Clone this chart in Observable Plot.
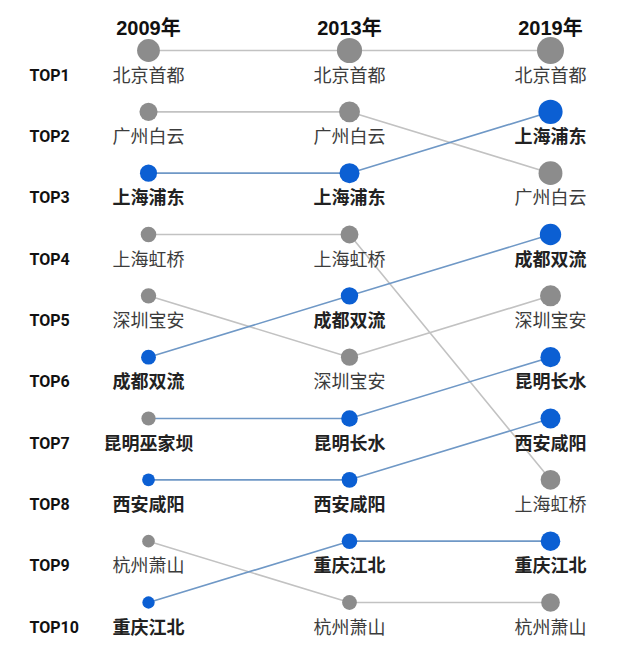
<!DOCTYPE html>
<html>
<head>
<meta charset="utf-8">
<script src="https://cdn.jsdelivr.net/npm/d3@7"></script>
<script src="https://cdn.jsdelivr.net/npm/@observablehq/plot@0.6"></script>
<style>
  html, body { margin: 0; padding: 0; background: #fff; }
  #chart svg { display: block; }
</style>
</head>
<body>
<div id="chart"></div>
<script>
// Years (columns) and ranks (rows)
const years = ["2009", "2013", "2019"];
const ranks = [1, 2, 3, 4, 5, 6, 7, 8, 9, 10];

// Airport order by rank for each year
const names2009 = ["北京首都", "广州白云", "上海浦东", "上海虹桥", "深圳宝安", "成都双流", "昆明巫家坝", "西安咸阳", "杭州萧山", "重庆江北"];
const names2013 = ["北京首都", "广州白云", "上海浦东", "上海虹桥", "成都双流", "深圳宝安", "昆明长水", "西安咸阳", "重庆江北", "杭州萧山"];
const names2019 = ["北京首都", "上海浦东", "广州白云", "成都双流", "深圳宝安", "昆明长水", "西安咸阳", "上海虹桥", "重庆江北", "杭州萧山"];

// Passenger throughput (millions) – drives dot size
const pax2009 = [65.4, 37.0, 31.9, 25.1, 24.5, 22.6, 20.2, 15.3, 14.9, 14.0];
const pax2013 = [83.7, 52.5, 47.2, 35.6, 33.4, 32.3, 29.7, 26.0, 25.3, 22.1];
const pax2019 = [100.0, 76.2, 73.4, 55.9, 52.9, 48.1, 47.2, 45.6, 44.8, 40.1];

// Highlighted (blue) airports; old Kunming airport continues as 昆明长水
const blueAirports = ["上海浦东", "成都双流", "昆明长水", "西安咸阳", "重庆江北"];
const sameCity = {"昆明巫家坝": "昆明长水"};

const BLUE = "#0b5fd3", GRAY = "#8c8c8c";
const BLUE_LINE = "#6f98c6", GRAY_LINE = "#c2c2c2";

const namesByYear = {"2009": names2009, "2013": names2013, "2019": names2019};
const paxByYear = {"2009": pax2009, "2013": pax2013, "2019": pax2019};

const data = years.flatMap(year => namesByYear[year].map((name, i) => {
  const key = sameCity[name] || name;
  return {
    year, rank: ranks[i], name, key,
    pax: paxByYear[year][i],
    dotBlue: blueAirports.includes(name),
    seriesBlue: blueAirports.includes(key)
  };
}));

const cjk = "'Noto Sans CJK SC', 'Noto Sans', sans-serif";

const chart = Plot.plot({
  width: 640,
  height: 657,
  marginTop: 0, marginBottom: 0, marginLeft: 0, marginRight: 0,
  style: {fontFamily: cjk, background: "#fff"},
  x: {type: "point", domain: years, range: [147, 550], padding: 0, axis: null},
  y: {domain: [1, 10], range: [50, 602], axis: null},
  r: {type: "pow", exponent: 0.4, domain: [0, 100], range: [0, 13.5]},
  marks: [
    Plot.text(years, {
      x: d => d, frameAnchor: "top", dy: 20,
      text: d => d + "年", fontSize: 20, fontWeight: 600, fill: "#111",
      fontFamily: "'Liberation Sans', 'Noto Sans CJK SC', sans-serif"
    }),
    Plot.text(ranks, {
      y: d => d, frameAnchor: "left", dx: 29, dy: 25, textAnchor: "start",
      text: d => "TOP" + d, fontSize: 16, fontWeight: "bold", fill: "#111",
      fontFamily: "Roboto, sans-serif"
    }),
    Plot.line(data, {
      x: "year", y: "rank", z: "key",
      stroke: d => d.seriesBlue ? BLUE_LINE : GRAY_LINE,
      strokeWidth: 1.6
    }),
    Plot.dot(data, {
      x: "year", y: "rank", r: "pax",
      fill: d => d.dotBlue ? BLUE : GRAY
    }),
    Plot.text(data.filter(d => d.seriesBlue), {
      x: "year", y: "rank", dy: 25.5, text: "name",
      fontSize: 18, fontWeight: "bold", fill: "#222"
    }),
    Plot.text(data.filter(d => !d.seriesBlue), {
      x: "year", y: "rank", dy: 25.5, text: "name",
      fontSize: 18, fontWeight: "normal", fill: "#3c3c3c"
    })
  ]
});

document.getElementById("chart").appendChild(chart);
</script>
</body>
</html>
